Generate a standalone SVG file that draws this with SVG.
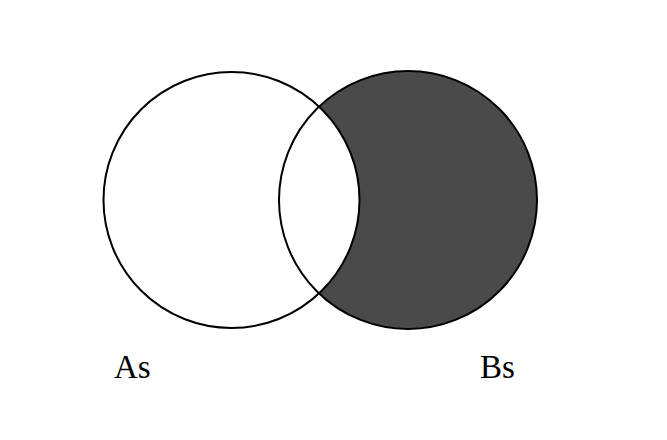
<svg xmlns="http://www.w3.org/2000/svg" width="667" height="440" viewBox="0 0 667 440">
  <style>
    .outline { fill: none; stroke: #000; stroke-width: 2; }
    .label { font-family: "Liberation Serif", "DejaVu Serif", serif; font-size: 33px; fill: #000; }
  </style>
  <rect width="667" height="440" fill="#fff"/>
  <g id="setB">
    <circle cx="408" cy="200" r="129" fill="#4a4a4a"/>
  </g>
  <g id="setA">
    <circle cx="231.5" cy="200" r="128" fill="#fff"/>
  </g>
  <g id="outlines">
    <circle class="outline" cx="408" cy="200" r="129"/>
    <circle class="outline" cx="231.5" cy="200" r="128"/>
  </g>
  <g id="labels">
    <text class="label" x="114" y="378">As</text>
    <text class="label" x="480" y="378">Bs</text>
  </g>
</svg>
